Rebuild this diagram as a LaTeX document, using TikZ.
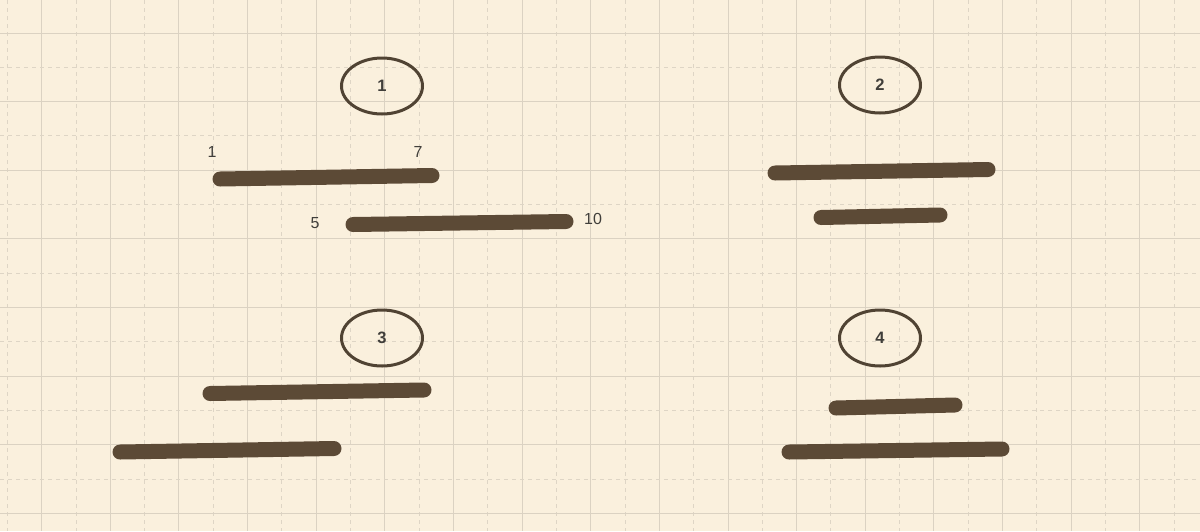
\documentclass[tikz,border=0pt]{standalone}
\usepackage{fontspec}
\setmainfont{Liberation Sans}
\usetikzlibrary{shapes.geometric}
\definecolor{paper}{RGB}{250,240,221}
\definecolor{gridline}{RGB}{219,210,194}
\definecolor{griddash}{RGB}{222,213,197}
\definecolor{ink}{RGB}{92,74,54}
\definecolor{ringink}{RGB}{80,67,51}
\definecolor{numtext}{RGB}{64,62,58}
\tikzset{
  ring/.style={ellipse, draw=ringink, line width=3pt, minimum width=81pt, minimum height=56pt, inner sep=0pt, text=numtext, font=\fontsize{16.5}{19}\selectfont\bfseries},
  bar/.style={draw=ink, line width=15pt, line cap=round},
  endlabel/.style={text=numtext, font=\fontsize{16}{19}\selectfont, inner sep=0pt}
}
\begin{document}
\begin{tikzpicture}[x=1pt, y=-1pt]
\fill[paper] (0,0) rectangle (1200,531);
\useasboundingbox (0,0) rectangle (1200,531);
% grid
\foreach \k in {-1,...,17} {
  \draw[gridline, line width=1pt] ({41.7+68.63*\k},0) -- ({41.7+68.63*\k},531);
  \draw[griddash, line width=1pt, dash pattern=on 4pt off 4pt] ({76+68.63*\k},0) -- ({76+68.63*\k},531);
}
\foreach \k in {-1,...,8} {
  \draw[gridline, line width=1pt] (0,{33+68.63*\k}) -- (1200,{33+68.63*\k});
  \draw[griddash, line width=1pt, dash pattern=on 4pt off 4pt] (0,{67.3+68.63*\k}) -- (1200,{67.3+68.63*\k});
}
% case 1
\node[ring] (c1) at (382,86) {1};
\coordinate (p1s) at (220,179);
\coordinate (p1e) at (432,175.5);
\coordinate (q1s) at (353,224.5);
\coordinate (q1e) at (566,221.5);
\draw[bar] (p1s) -- (p1e);
\draw[bar] (q1s) -- (q1e);
\node[endlabel] (l1) at (212,152) {1};
\node[endlabel] (l7) at (418,152) {7};
\node[endlabel] (l5) at (315,223) {5};
\node[endlabel] (l10) at (593,219) {10};
% case 2
\node[ring] (c2) at (880,85) {2};
\coordinate (p2s) at (775,173);
\coordinate (p2e) at (988,169.5);
\coordinate (q2s) at (821,217.5);
\coordinate (q2e) at (940,215);
\draw[bar] (p2s) -- (p2e);
\draw[bar] (q2s) -- (q2e);
% case 3
\node[ring] (c3) at (382,338) {3};
\coordinate (p3s) at (210,393.5);
\coordinate (p3e) at (424,390);
\coordinate (q3s) at (120,452);
\coordinate (q3e) at (334,448.5);
\draw[bar] (p3s) -- (p3e);
\draw[bar] (q3s) -- (q3e);
% case 4
\node[ring] (c4) at (880,338) {4};
\coordinate (p4s) at (836,408);
\coordinate (p4e) at (955,405);
\coordinate (q4s) at (789,452);
\coordinate (q4e) at (1002,449);
\draw[bar] (p4s) -- (p4e);
\draw[bar] (q4s) -- (q4e);
\end{tikzpicture}
\end{document}
